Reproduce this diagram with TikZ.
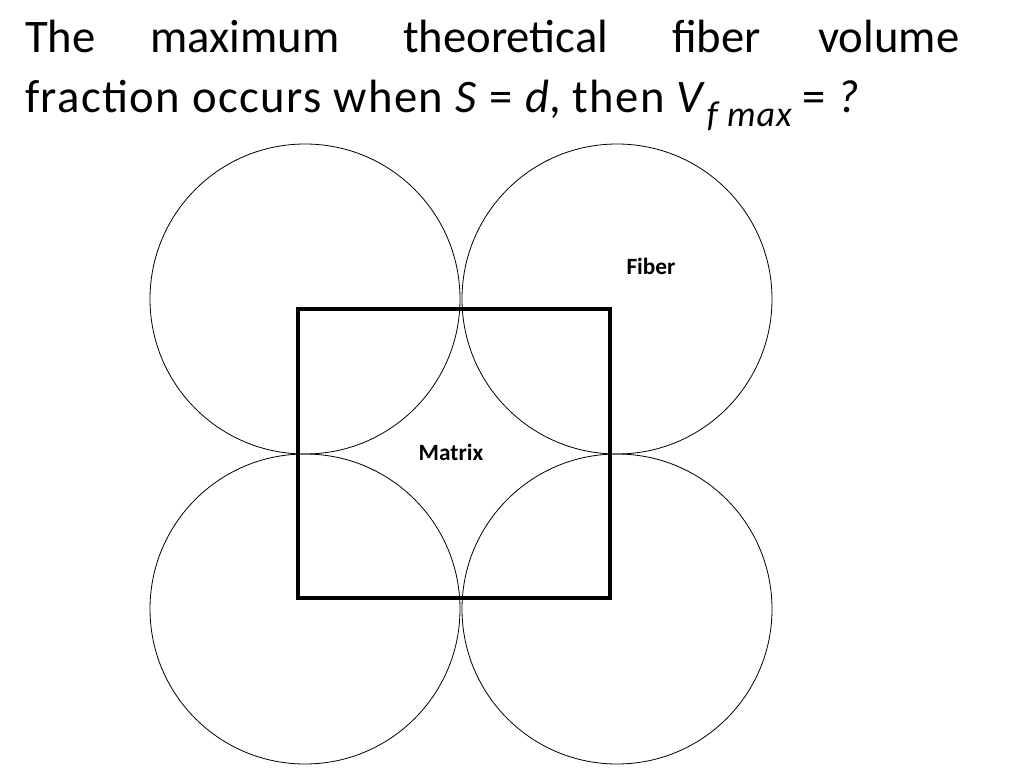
\documentclass[tikz,border=0pt]{standalone}
\usepackage{fontspec}
\setmainfont{Carlito}
\begin{document}
\begin{tikzpicture}[x=0.75pt,y=-0.75pt,
  fib/.style={draw=black,line width=0.6pt},
  word/.style={anchor=base west,inner sep=0pt,font=\fontsize{35}{40}\selectfont},
  lab/.style={font=\bfseries\fontsize{17.5}{20}\selectfont,inner sep=0pt}]
\useasboundingbox (0,0) rectangle (1024,781);
\node[word] (w1) at (25,53) {The};
\node[word] (w2) at (150,53) {maximum};
\node[word] (w3) at (403,53) {theoretical};
\node[word] (w4) at (672,53) {fiber};
\node[word] (w5) at (818,53) {volume};
\node[word] (l2) at (25,113) {\addfontfeature{LetterSpace=3}fraction occurs when \textit{S} = \textit{d}, then \textit{V}\raisebox{-0.3em}{\fontsize{27}{30}\selectfont\textit{f max}}\hspace{0.2em}= \textit{?}};
\draw[fib] (305,299) circle (155);
\draw[fib] (617,299) circle (155);
\draw[fib] (305,609) circle (155);
\draw[fib] (617,609) circle (155);
\draw[line width=2.3pt] (298,309) rectangle (610,598);
\node[lab] (fiber) at (651,266) {Fiber};
\node[lab] (matrix) at (451,452) {Matrix};
\end{tikzpicture}
\end{document}
